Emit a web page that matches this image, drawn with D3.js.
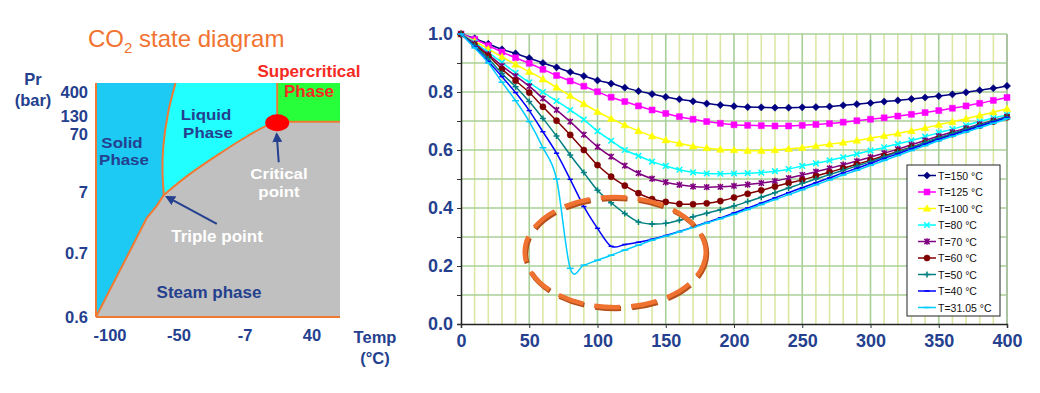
<!DOCTYPE html>
<html>
<head>
<meta charset="utf-8">
<script src="https://cdn.jsdelivr.net/npm/d3@7"></script>
<style>
body { margin: 0; background: #fff; }
svg { display: block; font-family: "Liberation Sans", Arial, sans-serif; }
</style>
</head>
<body>
<svg id="chart" width="1040" height="393"></svg>
<script>
// ---- left: CO2 phase diagram (schematic, [temp °C, pressure bar])
const tempTicks = [-100, -50, -7, 40];
const pressureTicks = [400, 130, 70, 7, 0.7, 0.6];
const sublimation = [[-110, 0.6], [-100, 0.643], [-86.3, 0.7], [-73.4, 4.3], [-66, 5.6], [-61, 6.7]];
const melting = [[-61, 6.7], [-62, 31], [-61.4, 56], [-58, 160], [-52.5, 500]];
const vaporization = [[-61, 6.7], [-45, 24], [-25, 47], [-6, 67], [8, 97], [15.6, 106]];
const triplePoint = [-61, 6.7];
const criticalPoint = [15.6, 106];
const supercriticalFloor = 111;

// ---- right: compressibility factor Z vs pressure (bar)
const pressure = [0, 10, 20, 30, 40, 50, 60, 70, 80, 90, 100, 110, 120, 130, 140, 150, 160, 170, 180, 190, 200,
    210, 220, 230, 240, 250, 260, 270, 280, 290, 300, 310, 320, 330, 340, 350, 360, 370, 380, 390, 400];
const z150 = [1.000, 0.985, 0.966, 0.947, 0.933, 0.917, 0.900, 0.885, 0.869, 0.855, 0.840, 0.829, 0.815, 0.803, 0.793, 0.783, 0.775, 0.768, 0.760, 0.755,
    0.751, 0.748, 0.747, 0.746, 0.746, 0.747, 0.748, 0.750, 0.754, 0.758, 0.762, 0.767, 0.771, 0.776, 0.781, 0.786, 0.792, 0.799, 0.806, 0.813, 0.821];
const z125 = [1.000, 0.982, 0.960, 0.938, 0.918, 0.899, 0.878, 0.857, 0.838, 0.820, 0.801, 0.782, 0.767, 0.752, 0.738, 0.726, 0.715, 0.706, 0.698, 0.692,
    0.687, 0.685, 0.684, 0.683, 0.683, 0.685, 0.688, 0.691, 0.696, 0.701, 0.706, 0.711, 0.717, 0.723, 0.729, 0.736, 0.744, 0.752, 0.761, 0.771, 0.781];
const z100 = [1.000, 0.975, 0.948, 0.921, 0.895, 0.870, 0.844, 0.816, 0.787, 0.759, 0.732, 0.708, 0.686, 0.666, 0.648, 0.634, 0.623, 0.613, 0.607, 0.602,
    0.600, 0.598, 0.598, 0.600, 0.604, 0.608, 0.614, 0.620, 0.626, 0.633, 0.641, 0.649, 0.657, 0.666, 0.676, 0.687, 0.697, 0.708, 0.719, 0.730, 0.742];
const z80 = [1.000, 0.970, 0.937, 0.902, 0.866, 0.833, 0.800, 0.769, 0.738, 0.705, 0.665, 0.632, 0.600, 0.580, 0.560, 0.545, 0.532, 0.523, 0.519, 0.518,
    0.519, 0.520, 0.522, 0.527, 0.534, 0.545, 0.554, 0.564, 0.575, 0.586, 0.598, 0.609, 0.621, 0.633, 0.646, 0.660, 0.672, 0.685, 0.698, 0.710, 0.721];
const z70 = [1.000, 0.967, 0.930, 0.890, 0.855, 0.820, 0.778, 0.738, 0.698, 0.653, 0.611, 0.577, 0.546, 0.520, 0.501, 0.489, 0.480, 0.474, 0.472, 0.473,
    0.476, 0.481, 0.486, 0.493, 0.503, 0.514, 0.525, 0.537, 0.549, 0.562, 0.575, 0.589, 0.603, 0.618, 0.633, 0.648, 0.662, 0.675, 0.689, 0.702, 0.715];
const z60 = [1.000, 0.962, 0.925, 0.879, 0.839, 0.798, 0.749, 0.701, 0.652, 0.600, 0.548, 0.508, 0.477, 0.451, 0.431, 0.421, 0.414, 0.413, 0.416, 0.424,
    0.436, 0.449, 0.461, 0.474, 0.486, 0.497, 0.510, 0.523, 0.537, 0.551, 0.565, 0.580, 0.595, 0.610, 0.625, 0.640, 0.655, 0.669, 0.684, 0.698, 0.713];
const z50 = [1.000, 0.960, 0.915, 0.864, 0.818, 0.767, 0.709, 0.648, 0.583, 0.522, 0.461, 0.418, 0.381, 0.352, 0.345, 0.347, 0.358, 0.370, 0.382, 0.394,
    0.407, 0.422, 0.437, 0.453, 0.469, 0.485, 0.500, 0.515, 0.530, 0.545, 0.560, 0.576, 0.593, 0.609, 0.626, 0.642, 0.657, 0.672, 0.686, 0.700, 0.714];
const z40 = [1.000, 0.955, 0.905, 0.853, 0.798, 0.736, 0.663, 0.589, 0.499, 0.405, 0.330, 0.268, 0.274, 0.282, 0.292, 0.305, 0.319, 0.334, 0.350, 0.366,
    0.383, 0.400, 0.417, 0.435, 0.453, 0.470, 0.487, 0.504, 0.521, 0.537, 0.554, 0.571, 0.587, 0.604, 0.620, 0.637, 0.652, 0.667, 0.682, 0.697, 0.712];
const z3105 = [1.000, 0.952, 0.900, 0.834, 0.770, 0.698, 0.608, 0.500, 0.192, 0.203, 0.220, 0.237, 0.255, 0.272, 0.289, 0.303, 0.318, 0.333, 0.348, 0.363,
    0.378, 0.395, 0.412, 0.429, 0.446, 0.463, 0.480, 0.497, 0.514, 0.530, 0.547, 0.564, 0.581, 0.598, 0.615, 0.632, 0.647, 0.662, 0.677, 0.692, 0.708];
const seriesNames = ['T=150 °C', 'T=125 °C', 'T=100 °C', 'T=80 °C', 'T=70 °C', 'T=60 °C', 'T=50 °C', 'T=40 °C', 'T=31.05 °C'];
const seriesValues = [z150, z125, z100, z80, z70, z60, z50, z40, z3105];
const zTicks = [0, 0.2, 0.4, 0.6, 0.8, 1.0];
const pTicks = [0, 50, 100, 150, 200, 250, 300, 350, 400];
const highlight = { p: 113, z: 0.248, dp: 66.3, dz: 0.19 };

const colors = ['#000080', '#ff00ff', '#ffff00', '#00ffff', '#800080', '#800000', '#008080', '#0000ff', '#00ccff'];
const markerTypes = ['diamond', 'square', 'triangle', 'x', 'star', 'circle', 'plus', 'dash', 'longdash'];
const navy = '#24408e';

const svg = d3.select('#chart');

// ================= left diagram =================
const tx = d3.scaleLinear().domain([-110, -100, -50, -7, 40, 60]).range([96, 110, 179, 245, 312, 340]);
const py = d3.scaleLinear().domain([0.6, 0.7, 7, 70, 130, 400, 500]).range([317, 253, 192, 134, 116, 92, 83]);
const straight = d3.line().x(d => tx(d[0])).y(d => py(d[1]));
const smooth = d3.line().x(d => tx(d[0])).y(d => py(d[1])).curve(d3.curveCatmullRom);
const join = (...parts) => parts.map((p, i) => i ? p.replace(/^M/, 'L') : p).join('') + 'Z';

const left = svg.append('g');

left.append('rect')
    .attr('x', tx(-110)).attr('y', py(500))
    .attr('width', tx(60) - tx(-110)).attr('height', py(0.6) - py(500))
    .attr('fill', '#c0c0c0');

left.append('path')
    .attr('d', join(straight([[-110, 0.6], [-110, 500], melting[melting.length - 1]]),
        smooth(melting.slice().reverse()), straight(sublimation.slice().reverse())))
    .attr('fill', '#1ccaf3');

left.append('path')
    .attr('d', join(smooth(melting), straight([[criticalPoint[0], 500], criticalPoint]),
        smooth(vaporization.slice().reverse())))
    .attr('fill', '#22ffff');

left.append('rect')
    .attr('x', tx(criticalPoint[0])).attr('y', py(500))
    .attr('width', tx(60) - tx(criticalPoint[0])).attr('height', py(supercriticalFloor) - py(500))
    .attr('fill', '#27ff3a');

const edge = '#ef7a34';
[[[-110, 0.6], [-110, 500]], [[-110, 0.6], [60, 0.6]], sublimation,
    [[criticalPoint[0], 500], [criticalPoint[0], supercriticalFloor]], [[criticalPoint[0], supercriticalFloor], [60, supercriticalFloor]]]
    .forEach(pts => left.append('path').attr('d', straight(pts)).attr('fill', 'none').attr('stroke', edge).attr('stroke-width', 2));
[melting, vaporization].forEach(pts => left.append('path').attr('d', smooth(pts))
    .attr('fill', 'none').attr('stroke', edge).attr('stroke-width', 2));

left.append('ellipse')
    .attr('cx', tx(criticalPoint[0])).attr('cy', py(criticalPoint[1]) - 0.5)
    .attr('rx', 12).attr('ry', 8.5)
    .attr('fill', '#ff0000');

svg.append('defs').append('marker')
    .attr('id', 'arrow').attr('viewBox', '0 0 10 10').attr('refX', 8).attr('refY', 5)
    .attr('markerWidth', 5).attr('markerHeight', 5).attr('orient', 'auto-start-reverse')
    .append('path').attr('d', 'M0,0L10,5L0,10Z').attr('fill', navy);

const cpx = tx(criticalPoint[0]), cpy = py(criticalPoint[1]);
left.append('line')
    .attr('x1', cpx + 1.5).attr('y1', cpy + 39).attr('x2', cpx - 0.5).attr('y2', cpy + 11)
    .attr('stroke', navy).attr('stroke-width', 2).attr('marker-end', 'url(#arrow)');
const tpx = tx(triplePoint[0]), tpy = py(triplePoint[1]);
left.append('line')
    .attr('x1', tpx + 53).attr('y1', tpy + 29).attr('x2', tpx + 3).attr('y2', tpy + 2)
    .attr('stroke', navy).attr('stroke-width', 2).attr('marker-end', 'url(#arrow)');

left.selectAll('.ptick').data(pressureTicks).enter().append('text')
    .attr('x', 88).attr('y', d => py(d) + 6)
    .attr('text-anchor', 'end').attr('font-size', 16.5).attr('font-weight', 'bold').attr('fill', navy)
    .text(d => d);
left.selectAll('.ttick').data(tempTicks).enter().append('text')
    .attr('x', d => tx(d)).attr('y', 341)
    .attr('text-anchor', 'middle').attr('font-size', 16.5).attr('font-weight', 'bold').attr('fill', navy)
    .text(d => d);

// [text, x, baseline, colour, font size]
const labels = [
    ['Pr', 33, 85, navy, 16.5], ['(bar)', 33, 106, navy, 16.5],
    ['Temp', 375, 343, navy, 16.5], ['(°C)', 375, 364, navy, 16.5],
    ['Solid', 122, 147.5, navy, 15.5], ['Phase', 124, 165, navy, 15.5],
    ['Liquid', 206, 120.3, navy, 15.5], ['Phase', 208, 137.8, navy, 15.5],
    ['Critical', 279, 179.3, '#ffffff', 15.5], ['point', 279, 196.8, '#ffffff', 15.5],
    ['Triple point', 217, 242, '#ffffff', 17],
    ['Steam phase', 209, 298, navy, 17],
    ['Supercritical', 309, 77, '#f52a22', 17], ['Phase', 309, 97, '#f52a22', 17]
];
left.selectAll('.lbl').data(labels).enter().append('text')
    .attr('transform', d => `translate(${d[1]},${d[2]}) scale(${d[4] < 16 ? 1.09 : 1},1)`)
    .attr('fill', d => d[3])
    .attr('text-anchor', 'middle').attr('font-size', d => d[4]).attr('font-weight', 'bold')
    .text(d => d[0]);

const title = left.append('text')
    .attr('x', 88).attr('y', 47).attr('font-size', 24).attr('fill', '#f27330');
title.append('tspan').text('CO');
title.append('tspan').attr('font-size', 15).attr('dy', 6).text('2');
title.append('tspan').attr('dy', -6).text(' state diagram');

// ================= right chart =================
const x = d3.scaleLinear().domain([0, 400]).range([461, 1007]);
const y = d3.scaleLinear().domain([0, 1]).range([324, 34]);
const right = svg.append('g');

right.selectAll('.vgrid').data(d3.range(10, 401, 10)).enter().append('line')
    .attr('x1', d => x(d)).attr('x2', d => x(d)).attr('y1', y(0)).attr('y2', y(1))
    .attr('stroke', d => d % 50 === 0 ? '#a8cf98' : '#dbe8a3').attr('stroke-width', 1.6);
right.selectAll('.hgrid').data(d3.range(1, 11)).enter().append('line')
    .attr('x1', x(0)).attr('x2', x(400)).attr('y1', d => y(d / 10)).attr('y2', d => y(d / 10))
    .attr('stroke', '#a8cf98').attr('stroke-width', 1.6);
right.append('line')
    .attr('x1', x(400)).attr('x2', x(400)).attr('y1', y(0)).attr('y2', y(1))
    .attr('stroke', '#a9bfa0').attr('stroke-width', 1.6);

const yAxis = right.append('g')
    .attr('transform', `translate(${x(0)},0)`)
    .call(d3.axisLeft(y).tickValues(d3.range(0, 11).map(d => d / 10)).tickSize(4).tickPadding(4)
        .tickFormat(d => zTicks.some(t => Math.abs(t - d) < 1e-9) ? d3.format('.1f')(d) : ''));
const xAxis = right.append('g')
    .attr('transform', `translate(0,${y(0)})`)
    .call(d3.axisBottom(x).tickValues(pTicks).tickSize(4).tickPadding(6).tickFormat(d3.format('d')));
[yAxis, xAxis].forEach(a => {
    a.select('.domain').attr('stroke', '#222').attr('stroke-width', 1.5);
    a.selectAll('.tick line').attr('stroke', '#333');
    a.selectAll('text').attr('font-size', 18).attr('font-weight', 'bold').attr('fill', navy)
        .attr('font-family', '"Liberation Sans", Arial, sans-serif');
});

const markerPath = {
    diamond: 'M0,-3.6L3.6,0L0,3.6L-3.6,0Z',
    square: 'M-3,-3H3V3H-3Z',
    triangle: 'M0,-3.8L3.8,2.8L-3.8,2.8Z',
    x: 'M-2.8,-2.8L2.8,2.8M-2.8,2.8L2.8,-2.8',
    star: 'M-2.6,-2.6L2.6,2.6M-2.6,2.6L2.6,-2.6M0,-3.2V3.2',
    circle: 'M-3.1,0A3.1,3.1 0 1,0 3.1,0A3.1,3.1 0 1,0 -3.1,0Z',
    plus: 'M-3,0H3M0,-3V3',
    dash: 'M-2.6,0H2.6',
    longdash: 'M-3.4,0H3.4'
};
const filled = t => ['diamond', 'square', 'triangle', 'circle'].includes(t);
function drawMarker (sel, type, color) {
    sel.attr('d', markerPath[type])
        .attr('fill', filled(type) ? color : 'none')
        .attr('stroke', color)
        .attr('stroke-width', filled(type) ? 0.5 : 1.5);
}

const curve = d3.line().x((d, i) => x(pressure[i])).y(d => y(d)).curve(d3.curveCardinal.tension(0));

seriesValues.forEach((vals, s) => {
    const g = right.append('g');
    g.append('path').attr('d', curve(vals))
        .attr('fill', 'none').attr('stroke', colors[s]).attr('stroke-width', 1.5);
    g.selectAll('path.mk').data(vals).enter().append('path')
        .attr('class', 'mk')
        .attr('transform', (d, i) => `translate(${x(pressure[i])},${y(d)})`)
        .call(drawMarker, markerTypes[s], colors[s]);
});

// dashed highlight around the low-temperature dip
const ecx = x(highlight.p), ecy = y(highlight.z),
    erx = x(highlight.p + highlight.dp) - ecx, ery = ecy - y(highlight.z + highlight.dz);
right.append('ellipse')
    .attr('cx', ecx + 1).attr('cy', ecy + 1.5).attr('rx', erx).attr('ry', ery)
    .attr('fill', 'none').attr('stroke', '#b4501c').attr('stroke-width', 5)
    .attr('stroke-dasharray', '26 11');
right.append('ellipse')
    .attr('cx', ecx).attr('cy', ecy).attr('rx', erx).attr('ry', ery)
    .attr('fill', 'none').attr('stroke', '#ef7230').attr('stroke-width', 4.5)
    .attr('stroke-dasharray', '26 11');

// legend
const legend = right.append('g').attr('transform', 'translate(907,165)');
legend.append('rect').attr('width', 93).attr('height', 151)
    .attr('fill', '#fff').attr('stroke', '#222').attr('stroke-width', 1);
const rows = legend.selectAll('.row').data(seriesNames).enter().append('g')
    .attr('transform', (d, i) => `translate(0,${10.5 + i * 16.5})`);
rows.append('line').attr('x1', 11).attr('x2', 29)
    .attr('stroke', (d, i) => colors[i]).attr('stroke-width', 1.5);
rows.append('path').attr('transform', 'translate(20,0)')
    .each(function (d, i) { drawMarker(d3.select(this), markerTypes[i], colors[i]); });
rows.append('text').attr('x', 31).attr('y', 4)
    .attr('font-size', 10.5).attr('fill', '#111')
    .text(d => d);
</script>
</body>
</html>
